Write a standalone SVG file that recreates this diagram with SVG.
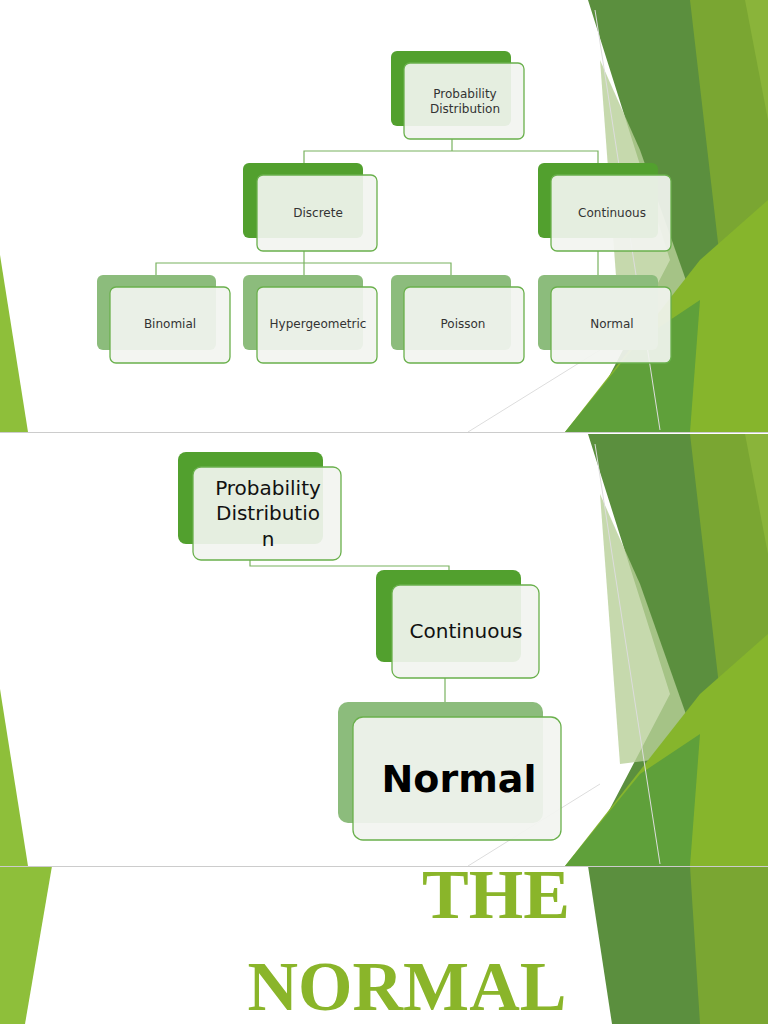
<svg xmlns="http://www.w3.org/2000/svg" width="768" height="1024" viewBox="0 0 768 1024">
<style>
.b1{fill:#52a02e}.b2{fill:#8cbc7c}
.f{fill:#f2f4f0;fill-opacity:0.92;stroke:#6ab04c;stroke-width:1.3}
.t{font-family:"DejaVu Sans",sans-serif;font-size:12px;fill:#333;text-anchor:middle}
.t2{font-family:"DejaVu Sans",sans-serif;font-size:20px;fill:#111;text-anchor:middle}
.c{fill:none;stroke:#79b25f;stroke-width:1.2}
</style>
<defs>
<g id="deco">
<polygon points="588,0 700,0 722,260 660,432 580,432 670,260" fill="#5b8f3e"/>
<polygon points="690,0 750,0 768,90 768,432 700,432 720,260" fill="#7aa632"/>
<polygon points="745,0 768,0 768,120" fill="#8ab43a"/>
<polygon points="600,60 640,150 700,320 620,330" fill="#b8cf98" opacity="0.8"/>
<polygon points="565,432 700,260 768,200 768,432" fill="#86b52c"/>
<polygon points="565,432 640,340 700,300 690,432" fill="#5fa03a"/>
<line x1="595" y1="10" x2="660" y2="430" stroke="#ddd" stroke-width="1"/>
<line x1="468" y1="432" x2="600" y2="350" stroke="#ddd" stroke-width="1"/>
<polygon points="0,255 28,432 0,432" fill="#8ebf3a"/>
</g>
</defs>
<rect width="768" height="1024" fill="#fff"/>
<use href="#deco"/>
<use href="#deco" y="434"/>
<g id="deco3">
<polygon points="588,866 700,866 705,1024 612,1024" fill="#5b8f3e"/>
<polygon points="690,866 768,866 768,1024 700,1024" fill="#7aa632"/>
<polygon points="0,866 52,866 25,1024 0,1024" fill="#8ebf3a"/>
</g>
<line x1="0" y1="432.5" x2="768" y2="432.5" stroke="#ccc"/>
<line x1="0" y1="866.5" x2="768" y2="866.5" stroke="#ccc"/>
<g id="connectors">
<polyline class="c" points="452,139 452,151"/>
<polyline class="c" points="304,163 304,151 598,151 598,163"/>
<polyline class="c" points="304,251 304,275"/>
<polyline class="c" points="156,275 156,263 451,263 451,275"/>
<polyline class="c" points="598,251 598,275"/>
<polyline class="c" points="250,560 250,566 449,566 449,570"/>
<polyline class="c" points="445,678 445,702"/>
</g>
<g id="pd1"><rect class="b1" x="391" y="51" width="120" height="75" rx="6"/><rect class="f" x="404" y="63" width="120" height="76" rx="6"/><text class="t" x="465" y="98">Probability</text><text class="t" x="465" y="113">Distribution</text></g>
<g id="discrete"><rect class="b1" x="243" y="163" width="120" height="75" rx="6"/><rect class="f" x="257" y="175" width="120" height="76" rx="6"/><text class="t" x="318" y="217">Discrete</text></g>
<g id="continuous"><rect class="b1" x="538" y="163" width="120" height="75" rx="6"/><rect class="f" x="551" y="175" width="120" height="76" rx="6"/><text class="t" x="612" y="217">Continuous</text></g>
<g id="binomial"><rect class="b2" x="97" y="275" width="119" height="75" rx="6"/><rect class="f" x="110" y="287" width="120" height="76" rx="6"/><text class="t" x="170" y="328">Binomial</text></g>
<g id="hyper"><rect class="b2" x="243" y="275" width="120" height="75" rx="6"/><rect class="f" x="257" y="287" width="120" height="76" rx="6"/><text class="t" x="318" y="328">Hypergeometric</text></g>
<g id="poisson"><rect class="b2" x="391" y="275" width="120" height="75" rx="6"/><rect class="f" x="404" y="287" width="120" height="76" rx="6"/><text class="t" x="463" y="328">Poisson</text></g>
<g id="normal1"><rect class="b2" x="538" y="275" width="120" height="75" rx="6"/><rect class="f" x="551" y="287" width="120" height="76" rx="6"/><text class="t" x="612" y="328">Normal</text></g>
<g id="pd2"><rect class="b1" x="178" y="452" width="145" height="92" rx="8"/><rect class="f" x="193" y="467" width="148" height="93" rx="8"/><text class="t2" x="268" y="495">Probability</text><text class="t2" x="268" y="520">Distributio</text><text class="t2" x="268" y="546">n</text></g>
<g id="continuous2"><rect class="b1" x="376" y="570" width="145" height="92" rx="8"/><rect class="f" x="392" y="585" width="147" height="93" rx="8"/><text class="t2" x="466" y="638">Continuous</text></g>
<g id="normal2"><rect class="b2" x="338" y="702" width="205" height="121" rx="10"/><rect class="f" x="353" y="717" width="208" height="123" rx="10"/><text x="459" y="792" font-family="DejaVu Sans,sans-serif" font-size="38" font-weight="bold" fill="#000" text-anchor="middle">Normal</text></g>
<g id="title" font-family="Liberation Serif,serif" font-weight="bold" font-size="70" fill="#8ab52a" text-anchor="middle">
<text x="496" y="918">THE</text><text x="407" y="1010">NORMAL</text></g>
</svg>
